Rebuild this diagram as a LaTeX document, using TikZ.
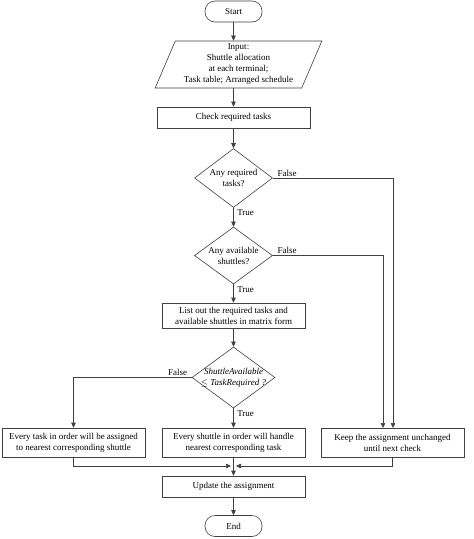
\documentclass[tikz,border=0pt]{standalone}
\usepackage{fontspec}
\setmainfont{Liberation Serif}
\usetikzlibrary{shapes.geometric,arrows.meta}
\begin{document}
\begin{tikzpicture}[x=1pt,y=1pt,
  every node/.style={font=\fontsize{9}{11}\selectfont, text=black},
  ln/.style={draw=black!75, line width=0.6pt},
  arr/.style={ln, -{Triangle[length=5pt,width=4.5pt]}},
  boxnode/.style={draw=black!75, line width=0.6pt, rectangle, inner sep=1pt, align=center, minimum width=143pt},
  termnode/.style={draw=black!75, line width=0.6pt, rectangle, rounded corners=10pt, minimum width=57pt, minimum height=21pt, inner sep=0pt},
  dianode/.style={draw=black!75, line width=0.6pt, diamond, inner sep=0pt},
  dtext/.style={align=center, inner sep=0pt},
  lbl/.style={inner sep=1.5pt}
]
\useasboundingbox (0,0) rectangle (474,-539);
\node[termnode] (start) at (233.5,-11.5) {Start};
\node[trapezium, trapezium left angle=67, trapezium right angle=113, trapezium stretches=true,
      draw=black!75, line width=0.6pt, minimum width=167pt, minimum height=47pt, inner sep=0pt, align=center]
      (input) at (238.5,-64.5) {Input:\\Shuttle allocation\\at each terminal;\\Task table; Arranged schedule};
\node[boxnode, minimum width=153pt, minimum height=21pt] (check) at (233.5,-117.5) {Check required tasks};
\node[dianode, minimum width=78pt, minimum height=59pt] (d1) at (233.5,-178) {};
\node[dtext] at (d1) {Any required\\tasks?};
\node[dianode, minimum width=78pt, minimum height=57pt] (d2) at (233.5,-255.5) {};
\node[dtext] at (d2) {Any available\\shuttles?};
\node[boxnode, minimum height=25pt] (list) at (233.5,-315.5) {List out the required tasks and\\available shuttles in matrix form};
\node[dianode, minimum width=83pt, minimum height=61pt] (d3) at (233.5,-377.5) {};
\node[dtext, font=\fontsize{9}{11}\selectfont\itshape] at (d3) {ShuttleAvailable\\$\leq$ TaskRequired ?};
\node[boxnode, minimum height=29pt] (left) at (73.5,-442.5) {Every task in order will be assigned\\to nearest corresponding shuttle};
\node[boxnode, minimum height=29pt] (mid) at (233.5,-442.5) {Every shuttle in order will handle\\nearest corresponding task};
\node[boxnode, minimum height=29pt] (right) at (392.5,-442.5) {Keep the assignment unchanged\\until next check};
\node[boxnode, minimum height=21pt] (update) at (233.5,-486.5) {Update the assignment};
\node[termnode] (end) at (233.5,-526) {End};
\coordinate (m) at (233.5,-466);
\coordinate (ra) at (393,-428);
\coordinate (rb) at (383,-428);

\draw[arr] (start.south) -- (start.south |- input.north);
\draw[arr] (check.north |- input.south) -- (check.north);
\draw[arr] (check) -- (d1);
\draw[arr] (d1) -- (d2) node[lbl, pos=0, anchor=north west, xshift=2pt] {True};
\draw[arr] (d2) -- (list) node[lbl, pos=0, anchor=north west, xshift=2pt] {True};
\draw[arr] (list) -- (d3);
\draw[arr] (d3) -- (mid) node[lbl, pos=0, anchor=north west, xshift=2pt] {True};
\draw[arr] (d3.west) -| (left.north);
\node[lbl, anchor=south east, xshift=-3pt] at (d3.west) {False};
\draw[arr] (d1.east) -| (ra);
\node[lbl, anchor=south west, xshift=3pt] at (d1.east) {False};
\draw[arr] (d2.east) -| (rb);
\node[lbl, anchor=south west, xshift=3pt] at (d2.east) {False};
\draw[arr] (left.south) |- ([xshift=-2.5pt]m);
\draw[arr] (right.south) |- ([xshift=2.5pt]m);
\draw[arr] (mid) -- (update);
\draw[arr] (update) -- (end);
\end{tikzpicture}
\end{document}
